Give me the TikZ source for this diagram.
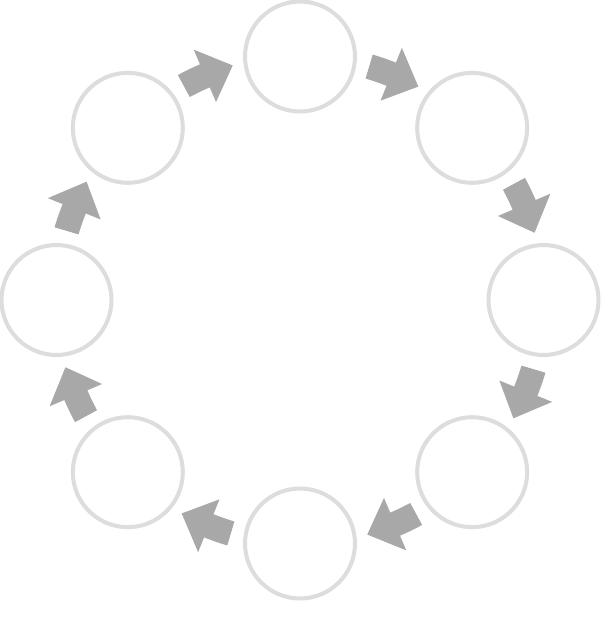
\documentclass[tikz,border=0pt]{standalone}
\usetikzlibrary{positioning}
\definecolor{ringgray}{RGB}{221,221,221}
\definecolor{arrowgray}{RGB}{168,168,168}
\tikzset{
	stepcircle/.style={circle,draw=ringgray,line width=2.3pt,minimum size=2.2cm,inner sep=0pt},
	roundarrow/.style={fill=arrowgray,draw=none}
}
\begin{document}
\begin{tikzpicture}[x=0.02cm,y=0.02cm]
	\useasboundingbox (-300,-320) rectangle (300,300);%Rand wie im Bild

	\foreach \i in {0,...,7}
		\node[stepcircle] (c\i) at ({90-45*\i}:243.5) {};%Kreise im Uhrzeigersinn

	\foreach \a in {67.5,22.5,...,-247.5}
		\fill[roundarrow] (\a+6:256) arc[start angle=\a+6,end angle=\a+0.5,radius=256]
			-- (\a+0.5:272) -- (\a-6.5:244) -- (\a+0.5:215) -- (\a+0.5:231)
			arc[start angle=\a+0.5,end angle=\a+6,radius=231] -- cycle;%Pfeil zwischen zwei Kreisen

\end{tikzpicture}
\end{document}
